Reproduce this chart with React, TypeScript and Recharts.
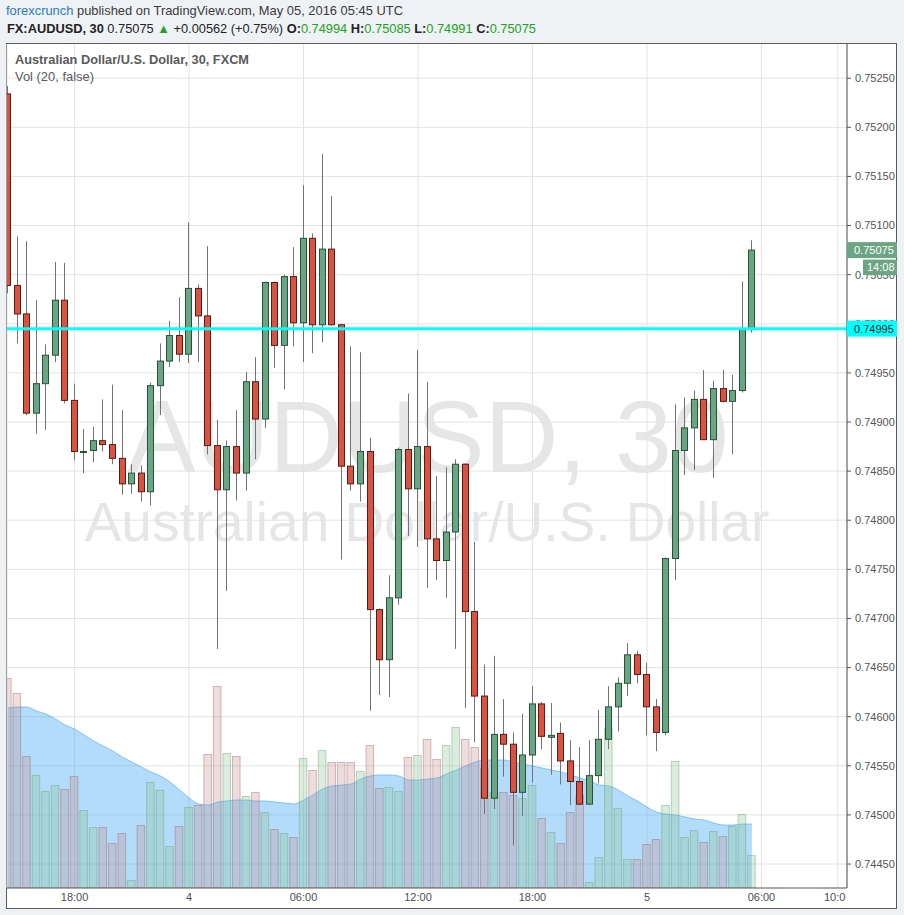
import React from 'react';
import { ComposedChart, Bar, Area, XAxis, YAxis, CartesianGrid, ReferenceLine } from 'recharts';

// ---- data (30-minute AUDUSD candles, index 0 = May 3 14:30 UTC) ----
const opens = [
  0.75234, 0.75039, 0.75010, 0.74909, 0.74939, 0.74968, 0.75024, 0.74922, 0.74869, 0.74871,
  0.74881, 0.74877, 0.74863, 0.74837, 0.74848, 0.74829, 0.74937, 0.74962, 0.74988, 0.74969,
  0.75036, 0.75008, 0.74876, 0.74831, 0.74875, 0.74848, 0.74941, 0.74903, 0.75042, 0.74978,
  0.75048, 0.75001, 0.75087, 0.74999, 0.75076, 0.74999, 0.74855, 0.74837, 0.74870, 0.74709,
  0.74658, 0.74721, 0.74872, 0.74832, 0.74875, 0.74781, 0.74759, 0.74788, 0.74857, 0.74707,
  0.74621, 0.74517, 0.74582, 0.74572, 0.74523, 0.74561, 0.74613, 0.74579, 0.74583, 0.74555,
  0.74534, 0.74511, 0.74540, 0.74577, 0.74610, 0.74634, 0.74663, 0.74643, 0.74610, 0.74584,
  0.74761, 0.74871, 0.74894, 0.74923, 0.74882, 0.74934, 0.74921, 0.74932, 0.74994,
];
const highs = [
  0.75242, 0.75089, 0.75084, 0.75024, 0.74979, 0.75063, 0.75062, 0.74939, 0.74893, 0.74895,
  0.74923, 0.74938, 0.74912, 0.74857, 0.74856, 0.74940, 0.74980, 0.75003, 0.75027, 0.75103,
  0.75040, 0.75079, 0.74902, 0.74881, 0.74912, 0.74951, 0.74966, 0.75043, 0.75043, 0.75050,
  0.75078, 0.75141, 0.75092, 0.75173, 0.75130, 0.75000, 0.74977, 0.74971, 0.74884, 0.74710,
  0.74744, 0.74874, 0.74929, 0.74973, 0.74941, 0.74845, 0.74854, 0.74862, 0.74858, 0.74778,
  0.74653, 0.74662, 0.74618, 0.74584, 0.74603, 0.74631, 0.74615, 0.74614, 0.74594, 0.74576,
  0.74569, 0.74576, 0.74607, 0.74631, 0.74640, 0.74675, 0.74667, 0.74655, 0.74618, 0.74762,
  0.74918, 0.74925, 0.74932, 0.74953, 0.74942, 0.74953, 0.74948, 0.75043, 0.75085,
];
const lows = [
  0.75031, 0.74980, 0.74907, 0.74888, 0.74892, 0.74961, 0.74919, 0.74861, 0.74848, 0.74859,
  0.74870, 0.74857, 0.74826, 0.74827, 0.74819, 0.74815, 0.74907, 0.74956, 0.74961, 0.74960,
  0.74961, 0.74867, 0.74669, 0.74728, 0.74820, 0.74830, 0.74862, 0.74894, 0.74955, 0.74933,
  0.74977, 0.74961, 0.74970, 0.74981, 0.74998, 0.74760, 0.74830, 0.74819, 0.74606, 0.74622,
  0.74620, 0.74714, 0.74784, 0.74773, 0.74731, 0.74739, 0.74721, 0.74669, 0.74609, 0.74574,
  0.74501, 0.74506, 0.74539, 0.74469, 0.74499, 0.74533, 0.74567, 0.74541, 0.74531, 0.74510,
  0.74510, 0.74510, 0.74532, 0.74567, 0.74585, 0.74621, 0.74634, 0.74581, 0.74565, 0.74581,
  0.74739, 0.74846, 0.74851, 0.74882, 0.74843, 0.74920, 0.74867, 0.74930, 0.74991,
];
const closes = [
  0.75039, 0.75010, 0.74909, 0.74939, 0.74968, 0.75024, 0.74922, 0.74870, 0.74870, 0.74881,
  0.74877, 0.74863, 0.74837, 0.74848, 0.74829, 0.74937, 0.74962, 0.74988, 0.74969, 0.75036,
  0.75008, 0.74876, 0.74831, 0.74875, 0.74848, 0.74941, 0.74903, 0.75042, 0.74978, 0.75048,
  0.75001, 0.75087, 0.74999, 0.75076, 0.74999, 0.74855, 0.74837, 0.74870, 0.74709, 0.74658,
  0.74721, 0.74872, 0.74832, 0.74875, 0.74781, 0.74759, 0.74788, 0.74857, 0.74707, 0.74621,
  0.74517, 0.74582, 0.74572, 0.74523, 0.74561, 0.74613, 0.74580, 0.74581, 0.74555, 0.74534,
  0.74511, 0.74540, 0.74577, 0.74610, 0.74634, 0.74663, 0.74643, 0.74610, 0.74584, 0.74761,
  0.74871, 0.74894, 0.74923, 0.74882, 0.74934, 0.74921, 0.74932, 0.74994, 0.75075,
];
const volumes = [
  210, 195, 132, 113, 97, 103, 99, 112, 78, 61,
  61, 45, 55, 8, 63, 106, 98, 42, 62, 81,
  83, 134, 202, 135, 132, 92, 96, 76, 59, 55,
  51, 130, 118, 138, 126, 126, 126, 117, 143, 100,
  101, 97, 131, 133, 149, 129, 143, 161, 149, 141,
  120, 96, 96, 93, 90, 103, 70, 56, 45, 76,
  93, 6, 31, 160, 80, 29, 29, 44, 49, 83,
  127, 51, 58, 46, 57, 52, 62, 74, 33,
];
const volumeMA = [
  180, 181, 181, 177, 174, 169, 163, 159, 153, 147,
  142, 137, 131, 126, 121, 116, 112, 106, 98, 90,
  84, 83, 86, 87, 88, 88, 87, 87, 86, 85,
  84, 88, 93, 99, 102, 103, 104, 109, 112, 113,
  113, 112, 108, 108, 109, 110, 114, 118, 122, 126,
  128, 128, 128, 126, 124, 122, 120, 118, 116, 113,
  110, 107, 103, 102, 98, 92, 87, 81, 76, 74,
  73, 71, 69, 68, 65, 63, 63, 64, 64,
];
const timeTickIndex = [7, 19, 31, 43, 55, 67, 79, 87];
const timeTickLabels = ['18:00', '4', '06:00', '12:00', '18:00', '5', '06:00', '10:00'];
const priceTicks = [
  0.7445, 0.745, 0.7455, 0.746, 0.7465, 0.747, 0.7475, 0.748, 0.7485,
  0.749, 0.7495, 0.75, 0.7505, 0.751, 0.7515, 0.752, 0.7525,
];
const lastPrice = 0.75075;
const linePrice = 0.74995;
const countdown = '14:08';

const data = opens.map((o, i) => ({
  i,
  open: o,
  high: highs[i],
  low: lows[i],
  close: closes[i],
  range: [lows[i], highs[i]],
  volume: volumes[i],
  ma: volumeMA[i],
}));

// ---- layout ----
const W = 904;
const H = 915;
const FONT = '"Liberation Sans", Arial, Helvetica, sans-serif';
const PLOT_RIGHT = 847;
const X_DOMAIN: [number, number] = [-0.084, 87.97];

const UP = '#6ba583';
const DOWN = '#d75442';
const UP_BORDER = '#225437';
const DOWN_BORDER = '#5b1a13';
const WICK = '#737375';

const CandleShape = (props: any) => {
  const { x, y, width, height, index } = props;
  const d = props.payload && props.payload.open !== undefined ? props.payload : data[index];
  if (!d || x == null || y == null) return null;
  const top = Math.min(y, y + height);
  const h = Math.abs(height);
  const span = d.high - d.low || 1e-9;
  const yOf = (p: number) => top + ((d.high - p) / span) * h;
  const up = d.close >= d.open;
  const cx = Math.floor(x + width / 2) + 0.5;
  const bTop = yOf(Math.max(d.open, d.close));
  let bBot = yOf(Math.min(d.open, d.close));
  if (bBot - bTop < 1) bBot = bTop + 1;
  return (
    <g>
      <line x1={cx} x2={cx} y1={top} y2={top + h} stroke={WICK} strokeWidth={1} />
      <rect
        x={cx - 3}
        y={bTop}
        width={6}
        height={bBot - bTop}
        fill={up ? UP : DOWN}
        stroke={up ? UP_BORDER : DOWN_BORDER}
        strokeWidth={1}
      />
    </g>
  );
};

const VolShape = (props: any) => {
  const { x, y, width, height, index } = props;
  const d = props.payload && props.payload.open !== undefined ? props.payload : data[index];
  if (!d || x == null || y == null) return null;
  const up = d.close >= d.open;
  const top = Math.min(y, y + height);
  const h = Math.abs(height);
  return (
    <rect
      x={x + 0.5}
      y={top + 0.5}
      width={width - 1}
      height={Math.max(h - 0.5, 0)}
      fill={up ? '#8ac091' : '#c38e8e'}
      fillOpacity={0.3}
      stroke={up ? '#6aa872' : '#a86a6a'}
      strokeOpacity={0.45}
      strokeWidth={1}
    />
  );
};

const TimeTick = (props: any) => {
  const { x, y, payload } = props;
  const k = timeTickIndex.indexOf(payload.value);
  const label = k >= 0 ? timeTickLabels[k] : '';
  return (
    <g>
      <defs>
        <clipPath id={`tclip${k}`}>
          <rect x={0} y={y - 10} width={PLOT_RIGHT - 1} height={30} />
        </clipPath>
      </defs>
      <text
        x={x}
        y={y}
        dy="0.71em"
        textAnchor="middle"
        fontSize={11}
        fontFamily={FONT}
        fill="#4e4e4e"
        clipPath={`url(#tclip${k})`}
      >
        {label}
      </text>
    </g>
  );
};

// price-axis tick: regular labels, plus the two price tags drawn last (on top)
const PriceTick = (props: any) => {
  const { x, y, payload } = props;
  const v = payload.value;
  const left = x - 8;
  if (v === linePrice) {
    return (
      <g>
        <rect x={left} y={y - 8} width={50} height={16} fill="#00ffff" />
        <text x={left + 7} y={y} dy="0.355em" fontSize={11} fontFamily={FONT} fill="#1a1a1a">
          {linePrice.toFixed(5)}
        </text>
      </g>
    );
  }
  if (v === lastPrice) {
    return (
      <g>
        <rect x={left} y={y - 8} width={50} height={16} fill={UP} />
        <text x={left + 7} y={y} dy="0.355em" fontSize={11} fontFamily={FONT} fill="#ffffff">
          {lastPrice.toFixed(5)}
        </text>
        <rect x={left + 16} y={y + 9.5} width={34} height={15.5} fill={UP} />
        <text x={left + 20} y={y + 17.5} dy="0.355em" fontSize={11} fontFamily={FONT} fill="#ffffff">
          {countdown}
        </text>
      </g>
    );
  }
  return (
    <text x={x} y={y} dy="0.355em" textAnchor="start" fontSize={11} fontFamily={FONT} fill="#555555">
      {v.toFixed(5)}
    </text>
  );
};

export default function App() {
  return (
    <div
      style={{
        position: 'fixed',
        left: 0,
        top: 0,
        width: W,
        height: H,
        background: '#eff2f5',
        overflow: 'hidden',
      }}
    >
      <svg width={W} height={H} style={{ position: 'absolute', left: 0, top: 0 }}>
        <rect x={6.5} y={43.5} width={890} height={865} fill="#ffffff" stroke="#5a5a5a" strokeWidth={1} />
        <text x={428} y={472} textAnchor="middle" fontSize={102} fontFamily={FONT} fill="#e6e6e6">
          AUDUSD, 30
        </text>
        <text x={427} y={541} textAnchor="middle" fontSize={55} fontFamily={FONT} fill="#e6e6e6">
          Australian Dollar/U.S. Dollar
        </text>
      </svg>

      <div style={{ position: 'absolute', left: 0, top: 0 }}>
        <ComposedChart width={W} height={H} data={data} margin={{ top: 44, right: 7, bottom: 6, left: 7 }}>
          <CartesianGrid xAxisId="main" yAxisId="p" stroke="#e3e3e3" horizontalValues={priceTicks} />
          <XAxis
            xAxisId="main"
            dataKey="i"
            type="number"
            domain={X_DOMAIN}
            ticks={timeTickIndex}
            interval={0}
            allowDataOverflow
            height={21}
            tickSize={0}
            tickMargin={5}
            axisLine={{ stroke: '#555555' }}
            tickLine={false}
            tick={<TimeTick />}
          />
          <XAxis xAxisId="vx" dataKey="i" type="number" domain={X_DOMAIN} allowDataOverflow hide />
          <YAxis
            yAxisId="p"
            orientation="right"
            domain={[0.744256, 0.752848]}
            ticks={[...priceTicks, linePrice, lastPrice]}
            interval={0}
            allowDataOverflow
            width={50}
            tickSize={4}
            tickMargin={4}
            axisLine={{ stroke: '#555555' }}
            tickLine={{ stroke: '#555555' }}
            tick={<PriceTick />}
          />
          <YAxis yAxisId="v" hide domain={[0, 844]} allowDataOverflow />
          <Bar
            xAxisId="vx"
            yAxisId="v"
            dataKey="volume"
            barSize={10}
            shape={(p: any) => <VolShape {...p} />}
            isAnimationActive={false}
          />
          <Area
            xAxisId="vx"
            yAxisId="v"
            dataKey="ma"
            type="monotone"
            fill="#41a8f2"
            fillOpacity={0.4}
            stroke="#55b2f2"
            strokeOpacity={0.7}
            strokeWidth={1}
            dot={false}
            activeDot={false}
            isAnimationActive={false}
          />
          <Bar
            xAxisId="main"
            yAxisId="p"
            dataKey="range"
            barSize={7}
            shape={(p: any) => <CandleShape {...p} />}
            isAnimationActive={false}
          />
          <ReferenceLine xAxisId="main" yAxisId="p" y={linePrice} stroke="#00ffff" strokeWidth={3} />
        </ComposedChart>
      </div>

      <svg
        width={W}
        height={H}
        style={{ position: 'absolute', left: 0, top: 0, pointerEvents: 'none' }}
      >
        <text x={6} y={15} fontSize={13} fontFamily={FONT} textLength={397} lengthAdjust="spacingAndGlyphs">
          <tspan fill="#2b7bbd">forexcrunch</tspan>
          <tspan fill="#3a3a3a"> published on TradingView.com, May 05, 2016 05:45 UTC</tspan>
        </text>
        <text x={7} y={33} fontSize={13} fontFamily={FONT} fill="#222" textLength={529} lengthAdjust="spacingAndGlyphs">
          <tspan fontWeight="bold">FX:AUDUSD, 30</tspan>
          <tspan> 0.75075 </tspan>
          <tspan fill="#22a322">▲</tspan>
          <tspan> +0.00562 (+0.75%) </tspan>
          <tspan fontWeight="bold">O:</tspan>
          <tspan fill="#22a322">0.74994 </tspan>
          <tspan fontWeight="bold">H:</tspan>
          <tspan fill="#22a322">0.75085 </tspan>
          <tspan fontWeight="bold">L:</tspan>
          <tspan fill="#22a322">0.74991 </tspan>
          <tspan fontWeight="bold">C:</tspan>
          <tspan fill="#22a322">0.75075</tspan>
        </text>
        <text x={15} y={64} fontSize={13} fontWeight="bold" fontFamily={FONT} fill="#5a5a5a" textLength={234} lengthAdjust="spacingAndGlyphs">
          Australian Dollar/U.S. Dollar, 30, FXCM
        </text>
        <text x={15} y={81} fontSize={13} fontFamily={FONT} fill="#5a5a5a" textLength={79} lengthAdjust="spacingAndGlyphs">
          Vol (20, false)
        </text>
      </svg>
    </div>
  );
}
